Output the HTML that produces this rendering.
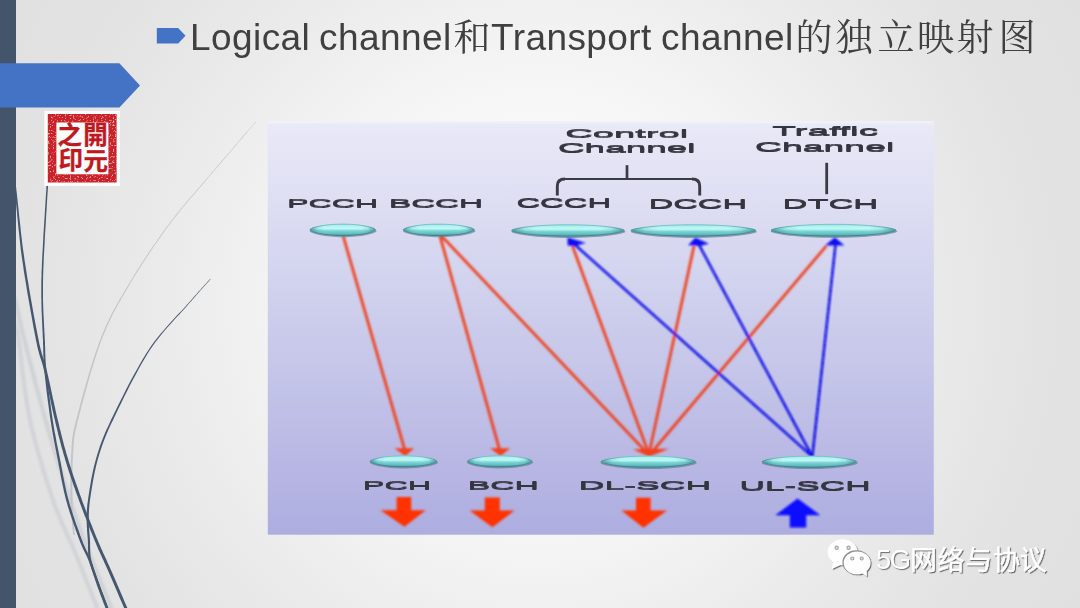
<!DOCTYPE html>
<html lang="zh">
<head>
<meta charset="utf-8">
<title>Logical channel和Transport channel的独立映射图</title>
<style>
html,body{margin:0;padding:0;}
body{width:1080px;height:608px;overflow:hidden;position:relative;font-family:"Liberation Sans",sans-serif;
background:#e0e0e0;}
#bg{position:absolute;left:0;top:0;width:1080px;height:608px;
background:radial-gradient(circle 620px at 540px 304px,#fcfcfc 0%,#fbfbfb 22%,#f4f4f4 40%,#ebebeb 60%,#e3e3e3 80.6%,#e0e0e0 100%);}
#bar{position:absolute;left:0;top:0;width:16px;height:608px;background:#44546a;}
svg{position:absolute;left:0;top:0;overflow:visible;}
#title{position:absolute;left:0;top:16.2px;height:44px;line-height:44px;font-size:37px;color:#404040;white-space:nowrap;letter-spacing:0.42px;}
#title span{position:absolute;top:0;white-space:nowrap;will-change:transform;}
.lbl{font-family:"Liberation Sans",sans-serif;font-weight:normal;font-variant-ligatures:none;fill:#363640;stroke:#363640;stroke-width:0.24;stroke-linejoin:round;}
#wm5g{position:absolute;left:875.6px;top:544.6px;font-size:27.4px;line-height:30px;color:#fff;letter-spacing:-1.6px;text-shadow:1.1px 1.1px 1px rgba(80,80,80,.8);will-change:transform;}
</style>
</head>
<body>
<div id="bg"></div>
<!-- wisp curves -->
<svg id="wisps" width="1080" height="608" viewBox="0 0 1080 608" fill="none" stroke-linecap="round">
<defs><filter id="wb" x="-20%" y="-5%" width="140%" height="110%"><feGaussianBlur stdDeviation="0.9"/></filter></defs><g filter="url(#wb)">
  <path d="M12.0 296.6 L12.1 296.8 L12.1 297.1 L12.2 297.3 L12.3 297.4 L12.3 297.6 L12.4 297.8 L12.5 298.0 L12.6 298.4 L12.7 298.9 L12.9 299.5 L13.1 300.3 L13.3 301.3 L13.6 302.5 L14.0 303.9 L14.3 305.5 L14.7 307.2 L15.1 309.0 L15.5 310.9 L16.0 313.0 L16.5 315.2 L17.0 317.6 L17.6 320.2 L18.2 323.0 L18.9 326.0 L19.7 329.2 L20.5 332.7 L21.5 336.5 L22.5 340.5 L23.6 344.9 L24.8 349.7 L26.1 354.8 L27.5 360.2 L28.9 365.9 L30.4 371.8 L32.0 377.8 L33.6 384.0 L35.2 390.2 L36.9 396.4 L38.5 402.6 L40.2 408.7 L41.8 414.7 L43.5 420.6 L45.1 426.4 L46.9 432.4 L48.7 438.5 L50.5 444.6 L52.4 450.8 L54.3 457.0 L56.2 463.1 L58.0 469.1 L59.9 475.0 L61.7 480.7 L63.4 486.1 L65.0 491.3 L66.6 496.2 L68.0 500.6 L69.3 504.7 L70.5 508.5 L71.7 511.9 L72.7 515.0 L73.7 517.9 L74.6 520.6 L75.6 523.2 L76.4 525.7 L77.3 528.1 L78.2 530.5 L79.1 532.9 L80.0 535.4 L81.0 538.0 L82.0 540.7 L83.1 543.6 L84.3 546.6 L85.4 549.5 L86.6 552.5 L87.8 555.5 L89.0 558.5 L90.2 561.4 L91.4 564.3 L92.6 567.2 L93.7 570.1 L94.9 572.9 L96.0 575.6 L97.0 578.2 L98.1 580.8 L99.1 583.3 L100.1 585.9 L101.1 588.4 L102.1 591.0 L103.1 593.5 L104.1 595.9 L105.1 598.3 L106.0 600.5 L106.8 602.7 L107.6 604.7 L108.3 606.5 L109.0 608.2 L109.6 609.6 L110.1 610.8 L113.9 609.2 L113.5 608.0 L112.9 606.6 L112.2 605.0 L111.5 603.1 L110.7 601.1 L109.9 599.0 L108.9 596.7 L108.0 594.4 L107.0 591.9 L106.0 589.4 L105.0 586.9 L104.0 584.3 L103.0 581.7 L101.9 579.2 L100.9 576.7 L99.9 574.0 L98.7 571.3 L97.6 568.5 L96.4 565.7 L95.3 562.8 L94.1 559.8 L92.9 556.9 L91.7 553.9 L90.5 550.9 L89.3 548.0 L88.2 545.0 L87.1 542.1 L86.0 539.3 L84.9 536.5 L84.0 533.9 L83.0 531.4 L82.1 529.0 L81.3 526.6 L80.4 524.2 L79.5 521.8 L78.6 519.2 L77.7 516.6 L76.7 513.7 L75.7 510.6 L74.5 507.2 L73.3 503.4 L72.0 499.4 L70.6 494.9 L69.0 490.0 L67.4 484.9 L65.7 479.4 L63.9 473.8 L62.1 467.9 L60.2 461.9 L58.3 455.8 L56.4 449.6 L54.6 443.4 L52.7 437.3 L50.9 431.2 L49.2 425.2 L47.5 419.4 L45.9 413.6 L44.2 407.6 L42.6 401.5 L40.9 395.3 L39.3 389.1 L37.6 382.9 L36.0 376.8 L34.5 370.7 L33.0 364.8 L31.5 359.2 L30.1 353.8 L28.8 348.6 L27.6 343.9 L26.5 339.5 L25.5 335.5 L24.6 331.7 L23.8 328.3 L23.0 325.0 L22.3 322.1 L21.7 319.3 L21.1 316.7 L20.6 314.3 L20.1 312.1 L19.6 310.0 L19.2 308.1 L18.8 306.3 L18.4 304.5 L18.0 302.9 L17.7 301.5 L17.4 300.2 L17.1 299.2 L16.9 298.4 L16.7 297.7 L16.6 297.2 L16.5 296.8 L16.4 296.5 L16.3 296.2 L16.2 296.0 L16.2 295.9 L16.1 295.7 L16.1 295.6 L16.0 295.4Z" fill="#cfd2d6" stroke="none"/>
  <path d="M12.1 322.5 L12.1 322.8 L12.2 323.2 L12.3 323.6 L12.5 324.1 L12.6 324.7 L12.7 325.2 L12.9 325.9 L13.1 326.5 L13.2 327.2 L13.4 327.8 L13.6 328.5 L13.7 329.2 L13.9 329.8 L14.1 330.5 L14.3 331.2 L14.7 332.0 L16.8 332.7 L18.0 332.0 L18.0 331.8 L17.2 332.4 L15.3 331.9 L15.0 331.5 L15.1 331.7 L15.2 332.4 L15.5 333.6 L15.8 335.2 L16.2 337.4 L16.6 340.3 L17.1 343.8 L17.7 348.0 L18.3 352.8 L18.9 358.0 L19.6 363.6 L20.3 369.6 L21.0 375.9 L21.9 382.3 L22.7 388.8 L23.7 395.4 L24.7 401.9 L25.7 408.3 L26.8 414.5 L28.0 420.4 L29.3 426.2 L30.7 432.1 L32.2 438.1 L33.8 444.2 L35.5 450.2 L37.2 456.3 L38.9 462.3 L40.7 468.2 L42.5 474.0 L44.2 479.7 L46.0 485.3 L47.7 490.6 L49.5 495.8 L51.1 500.7 L52.7 505.3 L54.3 509.7 L56.0 513.8 L57.6 517.8 L59.2 521.5 L60.8 525.2 L62.3 528.8 L63.9 532.3 L65.5 535.7 L67.1 539.2 L68.7 542.7 L70.3 546.3 L71.9 549.9 L73.5 553.8 L75.1 557.8 L76.9 562.2 L78.7 566.7 L80.6 571.4 L82.4 576.1 L84.3 580.9 L86.2 585.5 L88.0 590.1 L89.7 594.4 L91.3 598.5 L92.8 602.2 L94.1 605.5 L95.2 608.4 L96.1 610.7 L99.9 609.3 L98.9 606.9 L97.8 604.1 L96.5 600.7 L95.0 597.0 L93.4 593.0 L91.7 588.6 L89.9 584.1 L88.1 579.4 L86.2 574.7 L84.3 569.9 L82.4 565.2 L80.6 560.7 L78.8 556.3 L77.1 552.2 L75.5 548.4 L73.9 544.7 L72.3 541.0 L70.7 537.5 L69.2 534.1 L67.6 530.6 L66.0 527.1 L64.4 523.6 L62.8 520.0 L61.3 516.2 L59.7 512.3 L58.1 508.2 L56.5 503.9 L54.9 499.3 L53.2 494.5 L51.5 489.4 L49.8 484.0 L48.0 478.5 L46.3 472.8 L44.5 467.0 L42.7 461.1 L41.0 455.2 L39.3 449.1 L37.7 443.1 L36.1 437.1 L34.6 431.2 L33.2 425.3 L32.0 419.6 L30.8 413.7 L29.7 407.6 L28.6 401.3 L27.6 394.8 L26.7 388.3 L25.8 381.8 L25.0 375.4 L24.2 369.1 L23.5 363.2 L22.9 357.5 L22.2 352.3 L21.6 347.5 L21.1 343.3 L20.6 339.7 L20.1 336.8 L19.7 334.5 L19.4 332.8 L19.1 331.5 L18.9 330.6 L18.7 329.9 L18.2 329.1 L16.1 328.5 L15.0 329.3 L14.9 329.4 L15.9 328.8 L17.8 329.4 L18.0 329.8 L17.9 329.5 L17.8 328.9 L17.6 328.2 L17.4 327.5 L17.3 326.8 L17.1 326.2 L16.9 325.5 L16.8 324.9 L16.6 324.3 L16.5 323.7 L16.3 323.2 L16.2 322.7 L16.1 322.2 L16.0 321.8 L15.9 321.5Z" fill="#d1d3d7" stroke="none"/>
</g>
  <path d="M255.6 121.7 L253.7 123.9 L251.3 126.7 L248.5 130.0 L245.3 133.6 L241.8 137.6 L238.2 141.9 L234.4 146.3 L230.4 150.9 L226.5 155.5 L222.5 160.1 L218.7 164.6 L214.9 168.9 L211.4 173.1 L208.2 176.9 L205.1 180.5 L202.1 184.0 L199.2 187.3 L196.3 190.6 L193.5 193.9 L190.7 197.1 L187.9 200.3 L185.2 203.5 L182.5 206.8 L179.7 210.1 L177.0 213.5 L174.3 216.9 L171.5 220.5 L168.7 224.3 L165.8 228.1 L162.9 232.1 L160.0 236.2 L157.1 240.4 L154.1 244.6 L151.1 248.9 L148.2 253.3 L145.3 257.7 L142.4 262.0 L139.6 266.4 L136.8 270.7 L134.2 275.0 L131.6 279.3 L129.1 283.4 L126.7 287.5 L124.3 291.4 L122.1 295.3 L119.9 299.0 L117.7 302.8 L115.7 306.5 L113.6 310.3 L111.6 314.1 L109.7 318.0 L107.7 322.0 L105.8 326.2 L103.9 330.5 L102.0 335.0 L100.2 339.8 L98.2 344.9 L96.3 350.4 L94.3 356.2 L92.4 362.3 L90.4 368.5 L88.5 374.9 L86.7 381.2 L84.9 387.5 L83.1 393.7 L81.5 399.6 L80.0 405.3 L78.6 410.6 L77.3 415.4 L76.2 419.8 L75.2 423.5 L74.4 426.8 L73.8 429.7 L73.3 432.3 L72.8 434.5 L72.5 436.6 L72.2 438.4 L72.0 440.2 L71.9 442.0 L71.8 443.9 L71.6 445.8 L71.5 447.9 L71.4 450.3 L71.2 452.9 L71.0 455.9 L70.8 459.0 L70.7 462.3 L70.6 465.7 L70.5 469.2 L70.4 472.8 L70.3 476.4 L70.3 480.0 L70.3 483.5 L70.3 487.0 L70.3 490.5 L70.3 493.8 L70.3 497.0 L70.4 500.0 L70.5 503.0 L70.7 506.0 L70.8 509.0 L71.1 512.0 L71.3 514.9 L71.5 517.8 L71.8 520.5 L72.0 523.2 L72.3 525.7 L72.5 528.0 L72.7 530.1 L72.9 532.0 L73.1 533.7 L73.2 535.1 L74.8 534.9 L74.7 533.5 L74.6 531.9 L74.4 530.0 L74.2 527.8 L74.0 525.5 L73.8 523.0 L73.6 520.4 L73.4 517.6 L73.2 514.7 L73.0 511.8 L72.9 508.9 L72.8 505.9 L72.7 502.9 L72.6 500.0 L72.5 497.0 L72.5 493.8 L72.4 490.5 L72.4 487.0 L72.4 483.5 L72.4 480.0 L72.4 476.4 L72.5 472.8 L72.6 469.3 L72.6 465.8 L72.7 462.4 L72.9 459.1 L73.0 456.0 L73.2 453.1 L73.4 450.4 L73.5 448.0 L73.6 445.9 L73.7 444.0 L73.9 442.2 L74.0 440.4 L74.2 438.7 L74.4 436.8 L74.8 434.8 L75.2 432.6 L75.7 430.1 L76.3 427.3 L77.1 424.0 L78.0 420.2 L79.1 415.9 L80.3 411.1 L81.7 405.8 L83.2 400.1 L84.8 394.2 L86.5 388.0 L88.3 381.7 L90.1 375.3 L91.9 369.0 L93.8 362.7 L95.8 356.7 L97.7 350.8 L99.6 345.3 L101.4 340.2 L103.3 335.5 L105.2 331.0 L107.0 326.7 L108.9 322.5 L110.8 318.5 L112.7 314.6 L114.7 310.8 L116.7 307.1 L118.7 303.3 L120.9 299.6 L123.0 295.8 L125.3 292.0 L127.6 288.0 L129.9 284.0 L132.4 279.8 L135.0 275.5 L137.7 271.3 L140.4 266.9 L143.2 262.5 L146.1 258.2 L149.0 253.8 L151.9 249.4 L154.8 245.1 L157.8 240.9 L160.7 236.7 L163.6 232.6 L166.5 228.6 L169.3 224.7 L172.1 221.0 L174.9 217.4 L177.6 213.9 L180.3 210.6 L183.0 207.3 L185.8 204.0 L188.5 200.8 L191.2 197.6 L194.0 194.4 L196.8 191.1 L199.7 187.8 L202.6 184.4 L205.6 180.9 L208.6 177.3 L211.9 173.5 L215.4 169.3 L219.1 165.0 L223.0 160.5 L226.9 155.9 L230.9 151.2 L234.8 146.7 L238.6 142.2 L242.2 138.0 L245.7 134.0 L248.8 130.3 L251.6 127.0 L254.0 124.2 L256.0 121.9Z" fill="#c3c5c9" stroke="none"/>
  <path d="M210.2 278.8 L209.4 279.8 L208.4 280.8 L207.3 282.0 L206.1 283.4 L204.8 284.8 L203.3 286.4 L201.8 288.1 L200.2 289.9 L198.4 291.8 L196.6 293.9 L194.7 296.0 L192.7 298.3 L190.6 300.7 L188.4 303.2 L186.1 305.7 L183.7 308.4 L181.1 311.2 L178.3 314.1 L175.5 317.1 L172.6 320.3 L169.6 323.5 L166.5 326.9 L163.5 330.4 L160.4 334.0 L157.4 337.7 L154.4 341.6 L151.5 345.6 L148.7 349.7 L145.9 354.0 L143.0 358.7 L140.1 363.7 L137.2 368.9 L134.2 374.2 L131.3 379.6 L128.4 385.1 L125.6 390.6 L122.9 395.9 L120.2 401.2 L117.7 406.2 L115.4 411.0 L113.2 415.5 L111.2 419.6 L109.4 423.4 L107.8 426.9 L106.3 430.1 L105.0 433.1 L103.8 436.0 L102.7 438.7 L101.7 441.3 L100.8 443.8 L99.9 446.3 L99.1 448.7 L98.3 451.2 L97.5 453.8 L96.7 456.4 L95.9 459.2 L95.1 462.2 L94.3 465.2 L93.6 468.2 L92.9 471.3 L92.2 474.5 L91.6 477.6 L91.0 480.7 L90.5 483.7 L90.0 486.7 L89.5 489.6 L89.1 492.4 L88.7 495.0 L88.3 497.5 L88.0 499.9 L87.7 502.0 L87.4 504.0 L87.2 505.9 L87.1 507.7 L86.9 509.3 L86.8 510.9 L86.8 512.4 L86.8 513.8 L86.7 515.2 L86.7 516.5 L86.7 517.9 L86.7 519.2 L86.7 520.6 L86.7 522.0 L86.7 523.4 L86.8 524.8 L86.8 526.1 L86.9 527.4 L87.0 528.7 L87.0 530.0 L87.1 531.2 L87.2 532.4 L87.3 533.7 L87.4 534.9 L87.5 536.2 L87.6 537.4 L87.7 538.7 L87.8 540.1 L87.9 541.4 L87.9 542.7 L88.0 544.1 L88.0 545.4 L88.0 546.8 L88.0 548.2 L88.0 549.6 L88.1 551.0 L88.1 552.5 L88.2 554.0 L88.4 555.5 L88.6 557.0 L88.8 558.6 L89.1 560.2 L89.5 561.9 L90.0 563.6 L90.5 565.3 L91.0 567.1 L91.6 568.9 L92.2 570.7 L92.9 572.6 L93.5 574.4 L94.2 576.2 L94.9 578.1 L95.6 579.9 L96.3 581.8 L96.9 583.6 L97.6 585.4 L98.2 587.2 L98.9 589.2 L99.7 591.2 L100.5 593.3 L101.2 595.3 L102.0 597.4 L102.8 599.5 L103.6 601.4 L104.3 603.3 L104.9 605.1 L105.6 606.7 L106.1 608.1 L106.6 609.4 L107.0 610.4 L109.0 609.6 L108.6 608.6 L108.2 607.3 L107.6 605.9 L107.0 604.3 L106.3 602.5 L105.6 600.6 L104.8 598.7 L104.1 596.6 L103.3 594.6 L102.5 592.5 L101.7 590.4 L101.0 588.4 L100.3 586.5 L99.6 584.6 L99.0 582.8 L98.3 581.0 L97.6 579.2 L96.9 577.3 L96.3 575.5 L95.6 573.7 L94.9 571.8 L94.3 570.0 L93.7 568.2 L93.1 566.5 L92.5 564.7 L92.1 563.0 L91.6 561.4 L91.3 559.8 L90.9 558.2 L90.7 556.7 L90.5 555.2 L90.4 553.8 L90.3 552.3 L90.2 550.9 L90.2 549.5 L90.1 548.2 L90.1 546.8 L90.1 545.4 L90.1 544.0 L90.1 542.7 L90.0 541.3 L90.0 539.9 L89.9 538.6 L89.8 537.3 L89.7 536.0 L89.6 534.7 L89.5 533.5 L89.4 532.3 L89.3 531.0 L89.2 529.8 L89.1 528.6 L89.0 527.3 L88.9 526.0 L88.9 524.7 L88.9 523.4 L88.9 522.0 L88.9 520.6 L88.9 519.2 L88.8 517.9 L88.8 516.5 L88.8 515.2 L88.9 513.8 L88.9 512.4 L89.0 511.0 L89.0 509.5 L89.2 507.8 L89.3 506.1 L89.5 504.3 L89.7 502.3 L90.0 500.1 L90.4 497.8 L90.7 495.3 L91.1 492.7 L91.5 489.9 L92.0 487.0 L92.5 484.1 L93.0 481.0 L93.6 477.9 L94.2 474.8 L94.8 471.7 L95.5 468.7 L96.2 465.6 L96.9 462.7 L97.7 459.8 L98.5 457.0 L99.3 454.3 L100.1 451.8 L100.9 449.3 L101.7 446.9 L102.5 444.4 L103.4 441.9 L104.4 439.4 L105.5 436.7 L106.7 433.8 L108.0 430.8 L109.4 427.6 L111.0 424.1 L112.8 420.4 L114.8 416.3 L116.9 411.8 L119.2 407.0 L121.7 401.9 L124.3 396.6 L127.0 391.3 L129.7 385.8 L132.6 380.3 L135.5 374.9 L138.4 369.5 L141.3 364.3 L144.1 359.4 L146.9 354.7 L149.7 350.3 L152.5 346.2 L155.3 342.3 L158.3 338.4 L161.2 334.7 L164.3 331.0 L167.3 327.5 L170.3 324.2 L173.2 320.9 L176.1 317.7 L179.0 314.7 L181.7 311.8 L184.3 309.0 L186.7 306.2 L189.0 303.6 L191.1 301.2 L193.2 298.8 L195.2 296.5 L197.1 294.3 L198.9 292.3 L200.6 290.3 L202.2 288.5 L203.8 286.8 L205.2 285.2 L206.5 283.7 L207.7 282.4 L208.8 281.2 L209.7 280.1 L210.6 279.2Z" fill="#465870" stroke="none"/>
  <path d="M46.7 180.0 L46.7 180.5 L48.2 180.1 L48.2 179.9 L48.2 179.6 L48.3 179.3 L48.3 179.1 L48.2 179.2 L46.8 178.9 L46.8 179.2 L46.8 179.8 L46.8 180.8 L46.7 182.2 L46.6 184.2 L46.4 186.8 L46.3 190.0 L46.0 194.0 L45.7 198.6 L45.4 203.8 L45.0 209.4 L44.7 215.2 L44.3 221.3 L43.9 227.4 L43.5 233.5 L43.2 239.5 L42.9 245.3 L42.6 250.7 L42.3 255.6 L42.1 260.0 L41.9 263.8 L41.8 267.4 L41.6 270.7 L41.5 273.8 L41.5 276.7 L41.4 279.4 L41.3 282.1 L41.3 284.6 L41.3 287.1 L41.3 289.5 L41.3 292.0 L41.3 294.6 L41.3 297.2 L41.4 300.0 L41.4 302.9 L41.5 305.8 L41.5 308.8 L41.6 311.8 L41.8 314.7 L41.9 317.7 L42.0 320.7 L42.2 323.6 L42.3 326.5 L42.4 329.3 L42.6 332.1 L42.7 334.9 L42.8 337.5 L43.0 340.0 L43.0 342.4 L43.1 344.7 L43.2 346.8 L43.2 348.7 L43.2 350.7 L43.3 352.5 L43.3 354.4 L43.4 356.3 L43.5 358.3 L43.6 360.3 L43.7 362.5 L43.8 364.8 L44.0 367.4 L44.3 370.1 L44.6 373.1 L44.9 376.3 L45.3 379.7 L45.7 383.2 L46.1 386.9 L46.5 390.7 L47.0 394.5 L47.5 398.4 L48.0 402.2 L48.5 406.0 L49.0 409.7 L49.5 413.4 L50.0 416.9 L50.5 420.2 L51.0 423.3 L51.5 426.4 L52.0 429.4 L52.5 432.4 L53.0 435.2 L53.5 438.1 L54.0 440.8 L54.6 443.6 L55.1 446.3 L55.6 449.1 L56.2 451.8 L56.7 454.6 L57.3 457.4 L57.9 460.2 L58.4 463.1 L58.9 465.9 L59.5 468.8 L60.0 471.6 L60.5 474.5 L61.1 477.4 L61.6 480.2 L62.2 483.1 L62.8 486.0 L63.4 488.8 L64.0 491.7 L64.7 494.6 L65.4 497.4 L66.1 500.3 L67.0 503.2 L67.8 506.2 L68.8 509.3 L69.7 512.4 L70.8 515.5 L71.8 518.6 L72.8 521.6 L73.9 524.7 L74.9 527.6 L75.9 530.4 L76.9 533.2 L77.8 535.8 L78.7 538.2 L79.6 540.4 L80.3 542.5 L81.1 544.3 L81.8 546.0 L82.5 547.5 L83.1 548.9 L83.7 550.2 L84.4 551.5 L85.0 552.7 L85.5 553.8 L86.1 555.0 L86.7 556.3 L87.3 557.5 L87.9 558.9 L88.5 560.4 L89.1 562.1 L89.7 563.7 L90.3 565.4 L90.9 567.2 L91.5 569.0 L92.1 570.8 L92.7 572.6 L93.3 574.4 L93.9 576.3 L94.5 578.1 L95.1 579.9 L95.8 581.8 L96.4 583.6 L97.0 585.4 L97.7 587.3 L98.4 589.2 L99.2 591.2 L99.9 593.3 L100.7 595.4 L101.5 597.5 L102.3 599.5 L103.0 601.5 L103.7 603.4 L104.4 605.1 L105.0 606.7 L105.6 608.2 L106.0 609.4 L106.4 610.4 L108.8 609.6 L108.4 608.5 L107.9 607.3 L107.4 605.9 L106.7 604.2 L106.1 602.5 L105.4 600.6 L104.6 598.6 L103.8 596.6 L103.0 594.5 L102.3 592.4 L101.5 590.4 L100.7 588.4 L100.0 586.4 L99.4 584.6 L98.7 582.8 L98.1 581.0 L97.5 579.2 L96.9 577.3 L96.3 575.5 L95.6 573.6 L95.0 571.8 L94.4 570.0 L93.8 568.2 L93.2 566.4 L92.6 564.6 L92.0 562.9 L91.4 561.2 L90.7 559.6 L90.1 558.0 L89.5 556.6 L88.9 555.2 L88.3 554.0 L87.7 552.8 L87.1 551.6 L86.5 550.4 L85.9 549.2 L85.3 547.9 L84.7 546.5 L84.0 545.0 L83.3 543.4 L82.6 541.6 L81.8 539.6 L81.0 537.3 L80.1 534.9 L79.2 532.3 L78.2 529.6 L77.2 526.8 L76.1 523.9 L75.1 520.9 L74.1 517.8 L73.0 514.7 L72.0 511.6 L71.1 508.6 L70.1 505.5 L69.3 502.6 L68.5 499.7 L67.7 496.8 L67.0 494.0 L66.3 491.2 L65.7 488.3 L65.1 485.5 L64.5 482.6 L63.9 479.8 L63.4 476.9 L62.8 474.1 L62.3 471.2 L61.8 468.4 L61.2 465.5 L60.7 462.6 L60.1 459.8 L59.6 456.9 L59.0 454.1 L58.5 451.4 L57.9 448.6 L57.4 445.9 L56.8 443.2 L56.3 440.4 L55.8 437.6 L55.3 434.8 L54.7 432.0 L54.2 429.0 L53.7 426.1 L53.2 423.0 L52.7 419.8 L52.2 416.5 L51.7 413.0 L51.2 409.4 L50.7 405.7 L50.2 401.9 L49.7 398.1 L49.2 394.2 L48.7 390.4 L48.2 386.7 L47.8 383.0 L47.3 379.5 L47.0 376.1 L46.6 372.9 L46.3 369.9 L46.1 367.2 L45.9 364.7 L45.7 362.4 L45.6 360.2 L45.4 358.2 L45.4 356.2 L45.3 354.3 L45.2 352.5 L45.2 350.6 L45.2 348.7 L45.1 346.7 L45.0 344.6 L45.0 342.4 L44.8 340.0 L44.7 337.4 L44.6 334.8 L44.4 332.0 L44.3 329.3 L44.1 326.4 L44.0 323.5 L43.8 320.6 L43.7 317.6 L43.5 314.7 L43.4 311.7 L43.3 308.7 L43.2 305.8 L43.1 302.9 L43.0 300.0 L43.0 297.2 L43.0 294.6 L43.0 292.0 L43.0 289.5 L43.0 287.1 L43.0 284.6 L43.0 282.1 L43.1 279.5 L43.1 276.8 L43.2 273.9 L43.3 270.8 L43.4 267.5 L43.6 263.9 L43.7 260.0 L43.9 255.7 L44.2 250.7 L44.5 245.4 L44.8 239.6 L45.1 233.6 L45.5 227.5 L45.9 221.4 L46.2 215.3 L46.6 209.5 L46.9 203.9 L47.2 198.7 L47.5 194.1 L47.8 190.1 L48.0 186.8 L48.1 184.3 L48.2 182.3 L48.3 180.9 L48.3 179.8 L48.3 179.2 L48.3 178.9 L46.9 178.5 L46.8 178.8 L46.8 179.1 L46.7 179.4 L46.7 179.7 L46.7 179.9 L48.1 179.8 L48.1 180.0Z" fill="#465870" stroke="none"/>
  <path d="M13.2 178.1 L13.3 178.6 L13.3 179.0 L13.4 179.4 L13.4 179.8 L13.5 180.2 L13.6 180.8 L13.7 181.4 L13.8 182.3 L13.9 183.3 L14.1 184.6 L14.3 186.2 L14.5 188.1 L14.7 190.4 L15.0 193.1 L15.4 196.2 L15.7 199.8 L16.1 203.8 L16.5 208.1 L17.0 212.7 L17.4 217.5 L17.9 222.5 L18.4 227.8 L19.0 233.1 L19.6 238.5 L20.2 244.0 L20.8 249.4 L21.5 254.8 L22.3 260.2 L23.1 265.6 L23.9 271.4 L24.9 277.4 L25.9 283.6 L26.9 289.9 L28.0 296.2 L29.1 302.5 L30.2 308.7 L31.3 314.8 L32.3 320.6 L33.3 326.2 L34.3 331.3 L35.2 336.0 L36.0 340.3 L36.8 343.9 L37.4 347.0 L38.1 349.7 L38.7 352.0 L39.2 354.0 L39.7 355.7 L40.2 357.3 L40.7 358.8 L41.2 360.3 L41.7 361.8 L42.2 363.5 L42.8 365.5 L43.3 367.7 L44.0 370.3 L44.7 373.3 L45.4 376.5 L46.1 379.9 L46.9 383.4 L47.7 387.1 L48.5 390.8 L49.3 394.7 L50.1 398.5 L50.9 402.4 L51.7 406.2 L52.5 409.9 L53.3 413.5 L54.1 417.0 L54.9 420.3 L55.6 423.5 L56.4 426.6 L57.1 429.6 L57.8 432.5 L58.5 435.4 L59.3 438.2 L60.0 441.0 L60.7 443.8 L61.4 446.5 L62.2 449.3 L63.0 452.0 L63.7 454.8 L64.6 457.6 L65.4 460.4 L66.3 463.3 L67.2 466.2 L68.1 469.0 L69.0 471.9 L70.0 474.7 L70.9 477.6 L71.9 480.5 L72.9 483.3 L73.9 486.2 L74.9 489.1 L75.9 491.9 L76.9 494.8 L78.0 497.6 L79.0 500.5 L80.1 503.4 L81.2 506.3 L82.3 509.3 L83.4 512.2 L84.5 515.2 L85.7 518.1 L86.8 521.1 L88.0 524.0 L89.1 526.9 L90.2 529.8 L91.4 532.6 L92.5 535.3 L93.6 538.0 L94.6 540.6 L95.7 543.0 L96.7 545.4 L97.7 547.7 L98.6 549.9 L99.6 552.0 L100.5 554.1 L101.5 556.2 L102.4 558.2 L103.4 560.3 L104.3 562.4 L105.3 564.6 L106.3 566.8 L107.4 569.2 L108.4 571.6 L109.6 574.2 L110.8 577.1 L112.1 580.1 L113.5 583.3 L114.9 586.5 L116.3 589.8 L117.7 593.0 L119.0 596.2 L120.3 599.2 L121.6 602.1 L122.7 604.7 L123.7 607.0 L124.5 609.0 L125.2 610.6 L128.0 609.4 L127.3 607.8 L126.4 605.8 L125.4 603.5 L124.3 600.9 L123.1 598.0 L121.8 595.0 L120.4 591.8 L119.0 588.6 L117.6 585.3 L116.2 582.1 L114.9 578.9 L113.6 575.9 L112.3 573.0 L111.2 570.4 L110.1 568.0 L109.0 565.6 L108.0 563.4 L107.0 561.2 L106.1 559.1 L105.1 557.0 L104.2 554.9 L103.2 552.9 L102.3 550.8 L101.3 548.7 L100.4 546.5 L99.4 544.2 L98.4 541.9 L97.4 539.4 L96.3 536.9 L95.2 534.2 L94.1 531.5 L93.0 528.7 L91.9 525.8 L90.7 522.9 L89.6 520.0 L88.4 517.1 L87.3 514.1 L86.1 511.2 L85.0 508.2 L83.9 505.3 L82.8 502.4 L81.8 499.5 L80.7 496.6 L79.7 493.8 L78.7 490.9 L77.7 488.1 L76.7 485.2 L75.7 482.4 L74.7 479.5 L73.7 476.7 L72.7 473.8 L71.8 471.0 L70.9 468.1 L70.0 465.3 L69.1 462.4 L68.2 459.6 L67.4 456.8 L66.5 454.0 L65.8 451.2 L65.0 448.5 L64.2 445.7 L63.5 443.0 L62.8 440.3 L62.1 437.5 L61.4 434.7 L60.7 431.8 L59.9 428.9 L59.2 425.9 L58.5 422.8 L57.7 419.7 L56.9 416.4 L56.1 412.9 L55.3 409.3 L54.5 405.6 L53.7 401.8 L52.8 397.9 L52.0 394.1 L51.2 390.3 L50.4 386.5 L49.6 382.8 L48.8 379.3 L48.1 375.9 L47.3 372.7 L46.6 369.7 L46.0 367.0 L45.4 364.7 L44.8 362.8 L44.2 361.0 L43.7 359.4 L43.2 358.0 L42.7 356.5 L42.3 354.9 L41.7 353.2 L41.2 351.3 L40.6 349.1 L40.0 346.4 L39.3 343.4 L38.6 339.7 L37.7 335.5 L36.8 330.8 L35.8 325.7 L34.8 320.2 L33.7 314.4 L32.6 308.3 L31.5 302.1 L30.4 295.8 L29.3 289.5 L28.3 283.2 L27.2 277.0 L26.3 271.0 L25.4 265.3 L24.5 259.8 L23.8 254.5 L23.0 249.2 L22.3 243.7 L21.7 238.3 L21.0 232.9 L20.5 227.5 L19.9 222.3 L19.3 217.3 L18.8 212.5 L18.4 207.9 L17.9 203.6 L17.5 199.6 L17.1 196.1 L16.8 192.9 L16.4 190.2 L16.2 187.9 L15.9 186.0 L15.7 184.4 L15.5 183.1 L15.4 182.0 L15.3 181.2 L15.2 180.5 L15.1 180.0 L15.0 179.6 L15.0 179.2 L14.9 178.8 L14.9 178.4 L14.8 177.9Z" fill="#465870" stroke="none"/>
</svg>

<div id="bar"></div>

<!-- blue pentagon tab -->
<svg width="160" height="120" viewBox="0 0 160 120"><polygon points="0,63.3 119.4,63.3 140,85.4 119.4,107.5 0,107.5" fill="#4472c4"/></svg>

<!-- seal -->
<svg id="seal" width="1080" height="608" viewBox="0 0 1080 608">
  <defs>
    <filter id="speck" x="0" y="0" width="100%" height="100%">
      <feTurbulence type="fractalNoise" baseFrequency="0.6" numOctaves="2" seed="7" result="n"/>
      <feColorMatrix in="n" type="matrix" values="0 0 0 0 0.96  0 0 0 0 0.62  0 0 0 0 0.62  0 0 0 3.4 -2.0" result="sp"/>
      <feComposite in="sp" in2="SourceGraphic" operator="in" result="spc"/>
      <feMerge><feMergeNode in="SourceGraphic"/><feMergeNode in="spc"/></feMerge>
    </filter>
  </defs>
  <rect x="44.4" y="110.9" width="75.4" height="75" fill="#fdfdfd"/>
  <path filter="url(#speck)" fill-rule="evenodd" fill="#cb2329" d="M47.8 114 H116.6 V182.4 H47.8 Z M56.4 122.6 V174.2 H108.4 V122.6 Z"/>
  <g font-family="'Liberation Sans','Noto Sans CJK TC',sans-serif" font-weight="bold" font-size="24.5" fill="#be191e" stroke="#be191e" stroke-width="0.3">
    <text x="57.5" y="144.4">之</text>
    <text x="83.2" y="144.3">開</text>
    <text x="58.6" y="169.2">印</text>
    <text x="83.6" y="169.7">元</text>
  </g>
</svg>

<!-- title -->
<svg width="60" height="60" viewBox="0 0 60 60" style="left:150px;top:0"><polygon points="6.8,28 28.2,28 35.5,35.8 28.2,43.6 6.8,43.6" fill="#4472c4"/></svg>
<div id="title"><span style="left:190.3px">Logical</span><span style="left:319px">channel</span><span style="left:491.4px">Transport</span><span style="left:660.6px">channel</span></div>
<svg id="tcjk" width="1080" height="80" viewBox="0 0 1080 80">
  <g font-family="'Liberation Sans','Noto Serif CJK SC',serif" font-size="37" fill="#404040">
    <text x="453.5" y="50.5">和</text>
    <text x="795.5 835.5 877.5 917 956.5 998.5" y="50.5">的独立映射图</text>
  </g>
</svg>

<!-- diagram -->
<svg id="diagram" width="1080" height="608" viewBox="0 0 1080 608">
  <defs>
    <linearGradient id="dbg" x1="0" y1="0" x2="0" y2="1">
      <stop offset="0" stop-color="#e9e9f7"/>
      <stop offset="0.17" stop-color="#dfe0f3"/>
      <stop offset="0.43" stop-color="#cfd0ed"/>
      <stop offset="0.60" stop-color="#c5c6e9"/>
      <stop offset="0.83" stop-color="#b8b7e4"/>
      <stop offset="1" stop-color="#adade0"/>
    </linearGradient>
    <linearGradient id="dtop" x1="0" y1="0" x2="0" y2="1">
      <stop offset="0" stop-color="#f3f3f8" stop-opacity="0.95"/>
      <stop offset="0.5" stop-color="#f0f0f8" stop-opacity="0.55"/>
      <stop offset="1" stop-color="#ebebf7" stop-opacity="0"/>
    </linearGradient>
    <linearGradient id="el" x1="0" y1="0" x2="0" y2="1">
      <stop offset="0" stop-color="#8bd5d6"/>
      <stop offset="0.13" stop-color="#aef0ee"/>
      <stop offset="0.38" stop-color="#bff9f7"/>
      <stop offset="0.5" stop-color="#9be8e7"/>
      <stop offset="0.58" stop-color="#7dd5d5"/>
      <stop offset="0.82" stop-color="#63bfc1"/>
      <stop offset="1" stop-color="#4a9ea2"/>
    </linearGradient>
    <linearGradient id="els" x1="0" y1="0" x2="0" y2="1">
      <stop offset="0" stop-color="#79c4c6"/>
      <stop offset="0.45" stop-color="#4f9fa3"/>
      <stop offset="1" stop-color="#367f85"/>
    </linearGradient>
    <linearGradient id="elh" x1="0" y1="0" x2="1" y2="0">
      <stop offset="0" stop-color="#2f8085" stop-opacity="0.75"/>
      <stop offset="0.12" stop-color="#2f8085" stop-opacity="0.15"/>
      <stop offset="0.22" stop-color="#2f8085" stop-opacity="0"/>
      <stop offset="0.78" stop-color="#2f8085" stop-opacity="0"/>
      <stop offset="0.88" stop-color="#2f8085" stop-opacity="0.15"/>
      <stop offset="1" stop-color="#2f8085" stop-opacity="0.75"/>
    </linearGradient>
    <filter id="b1" x="-5%" y="-5%" width="110%" height="110%"><feGaussianBlur stdDeviation="1.1"/></filter>
    <filter id="b2" x="-5%" y="-20%" width="110%" height="140%"><feGaussianBlur stdDeviation="0.65"/></filter>
    <filter id="b2t" x="-5%" y="-20%" width="110%" height="140%"><feOffset in="SourceGraphic" dy="0.5" result="o"/><feMerge result="m"><feMergeNode in="SourceGraphic"/><feMergeNode in="o"/></feMerge><feGaussianBlur in="m" stdDeviation="0.7"/></filter>
    <filter id="b3" x="-20%" y="-50%" width="140%" height="200%"><feGaussianBlur stdDeviation="0.8"/></filter>
  </defs>
  <rect x="267.8" y="121.2" width="666" height="413.5" fill="url(#dbg)"/>
  <rect x="267.8" y="121.2" width="666" height="5" fill="url(#dtop)"/>

  <!-- connector lines -->
  <g filter="url(#b1)" fill="none" stroke-linecap="butt">
    <g stroke="#ee4424" stroke-width="2.8">
      <line x1="343.2" y1="236" x2="404.8" y2="450"/>
      <line x1="440" y1="236" x2="499.6" y2="450"/>
      <line x1="441.5" y1="236" x2="646.2" y2="452"/>
      <line x1="572.5" y1="246" x2="648.1" y2="452"/>
      <line x1="694" y1="246" x2="649.4" y2="452"/>
      <line x1="826.4" y1="245.8" x2="652" y2="452"/>
    </g>
    <g stroke="#0808e8" stroke-width="2.4">
      <line x1="812.3" y1="456.6" x2="573.5" y2="243.5"/>
      <line x1="812.3" y1="456.6" x2="698.6" y2="244"/>
      <line x1="812.3" y1="456.6" x2="835.6" y2="244"/>
    </g>
    <!-- arrow heads -->
    <g fill="#f2401c" stroke="none">
      <polygon points="394.4,448.2 414.2,448.2 405.2,455.9"/>
      <polygon points="490,448.2 510.2,448.2 500.6,455.9"/>
      <polygon points="633,449.3 669,448.8 649.2,456.8"/>
    </g>
    <g fill="#1010f2" stroke="none">
      <polygon points="567.4,237.3 585.9,243 574,246.3 567.8,245.6"/>
      <polygon points="695.3,237.5 708.9,243.8 700,246 688.3,245.2"/>
      <polygon points="834.8,237.2 844.4,245.6 825,245.6"/>
    </g>
  </g>

  <!-- ellipses -->
  <g filter="url(#b2)">
    <g fill="#56708c" opacity="0.6">
      <path d="M309.5 231.1 C310.3 228.62 324.3 224.90 343.1 224.90 C361.9 224.90 375.9 228.62 376.7 231.1 C375.9 233.58 361.9 237.30 343.1 237.30 C324.3 237.30 310.3 233.58 309.5 231.1Z"/>
      <path d="M402.8 231.1 C403.7 228.62 418.8 224.90 439.2 224.90 C459.6 224.90 474.7 228.62 475.6 231.1 C474.7 233.58 459.6 237.30 439.2 237.30 C418.8 237.30 403.7 233.58 402.8 231.1Z"/>
      <path d="M511.2 231.7 C512.6 229.22 536.4 225.50 568.4 225.50 C600.4 225.50 624.2 229.22 625.6 231.7 C624.2 234.18 600.4 237.90 568.4 237.90 C536.4 237.90 512.6 234.18 511.2 231.7Z"/>
      <path d="M630.5 231.7 C632.1 229.22 658.4 225.50 693.8 225.50 C729.2 225.50 755.5 229.22 757.1 231.7 C755.5 234.18 729.2 237.90 693.8 237.90 C658.4 237.90 632.1 234.18 630.5 231.7Z"/>
      <path d="M770.6 231.5 C772.2 228.94 798.5 225.10 834.0 225.10 C869.5 225.10 895.8 228.94 897.4 231.5 C895.8 234.06 869.5 237.90 834.0 237.90 C798.5 237.90 772.2 234.06 770.6 231.5Z"/>
      <path d="M369.7 462.5 C370.6 460.10 384.7 456.50 403.9 456.50 C423.1 456.50 437.2 460.10 438.1 462.5 C437.2 464.90 423.1 468.50 403.9 468.50 C384.7 468.50 370.6 464.90 369.7 462.5Z"/>
      <path d="M466.9 462.5 C467.7 460.10 481.5 456.50 500.1 456.50 C518.7 456.50 532.5 460.10 533.3 462.5 C532.5 464.90 518.7 468.50 500.1 468.50 C481.5 468.50 467.7 464.90 466.9 462.5Z"/>
      <path d="M600.4 462.9 C601.6 460.46 621.6 456.80 648.6 456.80 C675.6 456.80 695.6 460.46 696.8 462.9 C695.6 465.34 675.6 469.00 648.6 469.00 C621.6 469.00 601.6 465.34 600.4 462.9Z"/>
      <path d="M761.6 463.0 C762.8 460.56 782.8 456.90 809.8 456.90 C836.8 456.90 856.8 460.56 858.0 463.0 C856.8 465.44 836.8 469.10 809.8 469.10 C782.8 469.10 762.8 465.44 761.6 463.0Z"/>
    </g>
    <g fill="url(#el)" stroke="url(#els)" stroke-width="0.9">
      <path d="M309.9 229.8 C310.7 227.52 324.3 224.10 342.7 224.10 C361.1 224.10 374.7 227.52 375.5 229.8 C374.7 232.08 361.1 235.50 342.7 235.50 C324.3 235.50 310.7 232.08 309.9 229.8Z"/>
      <path d="M403.2 229.8 C404.1 227.52 418.9 224.10 438.8 224.10 C458.7 224.10 473.5 227.52 474.4 229.8 C473.5 232.08 458.7 235.50 438.8 235.50 C418.9 235.50 404.1 232.08 403.2 229.8Z"/>
      <path d="M511.6 230.4 C513.0 228.12 536.4 224.70 568.0 224.70 C599.6 224.70 623.0 228.12 624.4 230.4 C623.0 232.68 599.6 236.10 568.0 236.10 C536.4 236.10 513.0 232.68 511.6 230.4Z"/>
      <path d="M630.9 230.4 C632.5 228.12 658.4 224.70 693.4 224.70 C728.4 224.70 754.3 228.12 755.9 230.4 C754.3 232.68 728.4 236.10 693.4 236.10 C658.4 236.10 632.5 232.68 630.9 230.4Z"/>
      <path d="M771.0 230.2 C772.6 227.84 798.5 224.30 833.6 224.30 C868.7 224.30 894.6 227.84 896.2 230.2 C894.6 232.56 868.7 236.10 833.6 236.10 C798.5 236.10 772.6 232.56 771.0 230.2Z"/>
      <path d="M370.1 461.2 C370.9 459.00 384.8 455.70 403.5 455.70 C422.2 455.70 436.1 459.00 436.9 461.2 C436.1 463.40 422.2 466.70 403.5 466.70 C384.8 466.70 370.9 463.40 370.1 461.2Z"/>
      <path d="M467.3 461.2 C468.1 459.00 481.6 455.70 499.7 455.70 C517.8 455.70 531.3 459.00 532.1 461.2 C531.3 463.40 517.8 466.70 499.7 466.70 C481.6 466.70 468.1 463.40 467.3 461.2Z"/>
      <path d="M600.8 461.6 C602.0 459.36 621.7 456.00 648.2 456.00 C674.7 456.00 694.4 459.36 695.6 461.6 C694.4 463.84 674.7 467.20 648.2 467.20 C621.7 467.20 602.0 463.84 600.8 461.6Z"/>
      <path d="M762.0 461.7 C763.2 459.46 782.9 456.10 809.4 456.10 C835.9 456.10 855.6 459.46 856.8 461.7 C855.6 463.94 835.9 467.30 809.4 467.30 C782.9 467.30 763.2 463.94 762.0 461.7Z"/>
    </g>
    <g fill="url(#elh)">
      <path d="M309.9 229.8 C310.7 227.52 324.3 224.10 342.7 224.10 C361.1 224.10 374.7 227.52 375.5 229.8 C374.7 232.08 361.1 235.50 342.7 235.50 C324.3 235.50 310.7 232.08 309.9 229.8Z"/>
      <path d="M403.2 229.8 C404.1 227.52 418.9 224.10 438.8 224.10 C458.7 224.10 473.5 227.52 474.4 229.8 C473.5 232.08 458.7 235.50 438.8 235.50 C418.9 235.50 404.1 232.08 403.2 229.8Z"/>
      <path d="M511.6 230.4 C513.0 228.12 536.4 224.70 568.0 224.70 C599.6 224.70 623.0 228.12 624.4 230.4 C623.0 232.68 599.6 236.10 568.0 236.10 C536.4 236.10 513.0 232.68 511.6 230.4Z"/>
      <path d="M630.9 230.4 C632.5 228.12 658.4 224.70 693.4 224.70 C728.4 224.70 754.3 228.12 755.9 230.4 C754.3 232.68 728.4 236.10 693.4 236.10 C658.4 236.10 632.5 232.68 630.9 230.4Z"/>
      <path d="M771.0 230.2 C772.6 227.84 798.5 224.30 833.6 224.30 C868.7 224.30 894.6 227.84 896.2 230.2 C894.6 232.56 868.7 236.10 833.6 236.10 C798.5 236.10 772.6 232.56 771.0 230.2Z"/>
      <path d="M370.1 461.2 C370.9 459.00 384.8 455.70 403.5 455.70 C422.2 455.70 436.1 459.00 436.9 461.2 C436.1 463.40 422.2 466.70 403.5 466.70 C384.8 466.70 370.9 463.40 370.1 461.2Z"/>
      <path d="M467.3 461.2 C468.1 459.00 481.6 455.70 499.7 455.70 C517.8 455.70 531.3 459.00 532.1 461.2 C531.3 463.40 517.8 466.70 499.7 466.70 C481.6 466.70 468.1 463.40 467.3 461.2Z"/>
      <path d="M600.8 461.6 C602.0 459.36 621.7 456.00 648.2 456.00 C674.7 456.00 694.4 459.36 695.6 461.6 C694.4 463.84 674.7 467.20 648.2 467.20 C621.7 467.20 602.0 463.84 600.8 461.6Z"/>
      <path d="M762.0 461.7 C763.2 459.46 782.9 456.10 809.4 456.10 C835.9 456.10 855.6 459.46 856.8 461.7 C855.6 463.94 835.9 467.30 809.4 467.30 C782.9 467.30 763.2 463.94 762.0 461.7Z"/>
    </g>
  </g>

  <!-- bracket lines -->
  <g filter="url(#b2)" fill="none" stroke="#3a3a44">
    <path d="M627 165.2 V179" stroke-width="2.7"/>
    <path d="M562 179 H695" stroke-width="1.8"/>
    <path d="M557.3 195.5 V186 Q557.3 179 565 179" stroke-width="2.9"/>
    <path d="M699.7 195.5 V186 Q699.7 179 692 179" stroke-width="2.9"/>
    <path d="M826.7 162.8 V194.2" stroke-width="2.8"/>
  </g>

  <!-- big arrows -->
  <g filter="url(#b1)">
    <polygon fill="#ff3300" points="396.6,497 411.2,497 411.2,510.3 425.8,510.3 404.4,526.8 380.6,510.3 396.6,510.3"/>
    <polygon fill="#ff3300" points="484.8,497.6 499.8,497.6 499.8,510.5 514.6,510.5 492.4,527.2 469.6,510.5 484.8,510.5"/>
    <polygon fill="#ff3300" points="636,497.7 650.6,497.7 650.6,510.4 667,510.4 643.4,527.8 621.4,510.4 636,510.4"/>
    <polygon fill="#0a0aff" points="797.6,498.4 820.3,515.2 806.2,515.2 806.2,527.4 789.8,527.4 789.8,515.2 775.4,515.2"/>
  </g>

  <!-- labels -->
  <g class="lbl" filter="url(#b2t)">
    <text transform="translate(287.18 206.75) scale(2.918 1)" font-size="10.99">PCCH</text>
    <text transform="translate(388.99 206.75) scale(3.023 1)" font-size="10.99">BCCH</text>
    <text transform="translate(516.41 207.05) scale(2.688 1)" font-size="12.20">CCCH</text>
    <text transform="translate(648.83 208.05) scale(2.723 1)" font-size="12.48">DCCH</text>
    <text transform="translate(782.60 208.05) scale(2.823 1)" font-size="12.20">DTCH</text>
    <text transform="translate(565.24 136.55) scale(3.407 1)" font-size="11.21">Control</text>
    <text transform="translate(557.90 152.35) scale(2.929 1)" font-size="12.62">Channel</text>
    <text transform="translate(772.27 134.95) scale(3.225 1)" font-size="12.06">Traffic</text>
    <text transform="translate(755.08 150.65) scale(2.962 1)" font-size="12.62">Channel</text>
    <text transform="translate(362.76 488.55) scale(2.892 1)" font-size="11.21">PCH</text>
    <text transform="translate(467.76 488.55) scale(2.997 1)" font-size="11.21">BCH</text>
    <text transform="translate(578.81 488.95) scale(3.132 1)" font-size="11.35">DL-SCH</text>
    <text transform="translate(739.48 489.85) scale(2.889 1)" font-size="12.20">UL-SCH</text>
  </g>
</svg>

<!-- watermark -->
<svg id="wm" width="1080" height="608" viewBox="0 0 1080 608">
  <defs>
    <filter id="b4"><feGaussianBlur stdDeviation="0.35"/></filter>
    <filter id="ds" x="-10%" y="-10%" width="130%" height="130%">
      <feDropShadow dx="1.1" dy="1.1" stdDeviation="0.55" flood-color="#505050" flood-opacity="0.8"/>
    </filter>
  </defs>
  <g filter="url(#ds)">
    <path fill="#fff" d="M833.2 561.5 L831.8 568.9 L840.5 564.9 Z"/>
    <ellipse cx="842.6" cy="552.3" rx="15" ry="13" fill="#fff"/>
  </g>
  <g fill="#e6e6e6" stroke="#a4a4a4" stroke-width="1.2" filter="url(#b4)">
    <circle cx="836.7" cy="547.8" r="1.6"/><circle cx="848.6" cy="547.8" r="1.6"/>
  </g>
  <g filter="url(#ds)">
    <path fill="#fff" d="M861.5 572.5 L866.8 576.4 L866.6 569 Z"/>
    <ellipse cx="856.3" cy="562.2" rx="13.9" ry="11.9" fill="#8e8e8e"/>
    <ellipse cx="857.1" cy="562.9" rx="13.4" ry="11.4" fill="#fff"/>
  </g>
  <g fill="#e6e6e6" stroke="#a4a4a4" stroke-width="1.2" filter="url(#b4)">
    <circle cx="852.3" cy="558.5" r="1.5"/><circle cx="861.7" cy="558.5" r="1.5"/>
  </g>
  <g filter="url(#ds)">
    <text x="910.1 937.5 965.2 993.1 1019.8" y="569.8" font-family="'Liberation Sans','Noto Sans CJK SC',sans-serif" font-size="27" fill="#fff" stroke="#fff" stroke-width="0.35">网络与协议</text>
  </g>
</svg>
<div id="wm5g">5G</div>
</body>
</html>
